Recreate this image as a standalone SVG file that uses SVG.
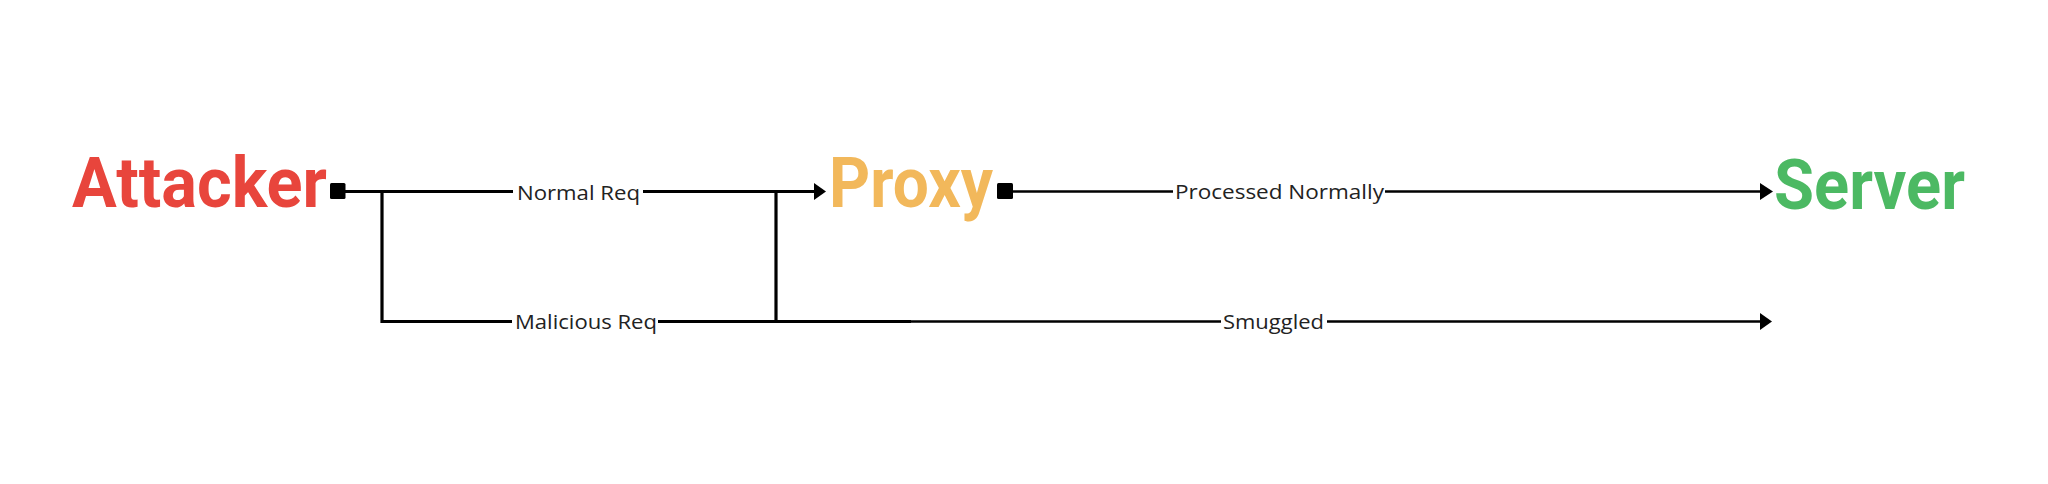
<svg xmlns="http://www.w3.org/2000/svg" width="2048" height="484" viewBox="0 0 2048 484">
<style>
.title{font-family:Roboto,"Liberation Sans",sans-serif;font-weight:700;font-size:70px}
.lbl{font-family:"Open Sans","Noto Sans","Liberation Sans",sans-serif;font-size:20px;fill:#222}
.thick{stroke:#000;stroke-width:3.2;fill:none}
.thin{stroke:#000;stroke-width:2.4;fill:none}
</style>
<rect width="2048" height="484" fill="#fff"/>
<g id="attacker"><text class="title" x="72" y="207" fill="#E8453C" textLength="255" lengthAdjust="spacingAndGlyphs">Attacker</text></g>
<g id="proxy"><text class="title" x="829" y="207" fill="#F2B85B" textLength="164" lengthAdjust="spacingAndGlyphs">Proxy</text></g>
<g id="server"><text class="title" x="1774" y="209" fill="#4CB963" textLength="191" lengthAdjust="spacingAndGlyphs">Server</text></g>
<g id="connectors">
  <rect x="330" y="183" width="15.5" height="16" rx="1.5" fill="#000"/>
  <path class="thick" d="M345 191.5 H513 M643 191.5 H816"/>
  <polygon points="814,183 826,191.5 814,200" fill="#000"/>
  <path class="thick" d="M382 191.5 V321.5 H512 M658 321.5 H911"/>
  <path class="thick" d="M776 191.5 V321.5"/>
  <path class="thin" d="M776 321.5 H1221 M1327 321.5 H1762"/>
  <polygon points="1760,313 1772,321.5 1760,330" fill="#000"/>
  <rect x="997" y="183" width="16" height="16" rx="1.5" fill="#000"/>
  <path class="thin" d="M1013 191.5 H1173 M1385 191.5 H1762"/>
  <polygon points="1760,183 1773,191.5 1760,200" fill="#000"/>
  <text class="lbl" x="517" y="200" textLength="123" lengthAdjust="spacingAndGlyphs">Normal Req</text>
  <text class="lbl" x="515" y="329" textLength="142" lengthAdjust="spacingAndGlyphs">Malicious Req</text>
  <text class="lbl" x="1175" y="199" textLength="209" lengthAdjust="spacingAndGlyphs">Processed Normally</text>
  <text class="lbl" x="1223" y="329" textLength="101" lengthAdjust="spacingAndGlyphs">Smuggled</text>
</g>
</svg>
